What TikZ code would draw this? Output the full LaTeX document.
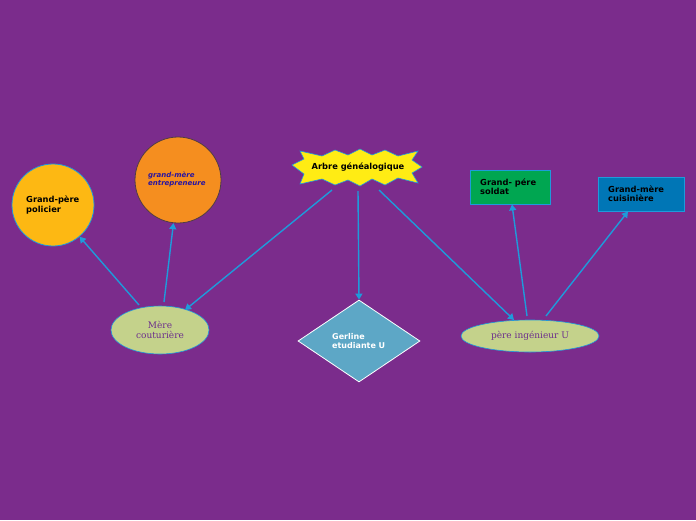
\documentclass[tikz,border=0pt]{standalone}
\usepackage{fontspec}
\setmainfont{DejaVu Sans}
\newfontfamily\serifx{DejaVu Serif}
\usetikzlibrary{shapes.geometric,arrows.meta}
\definecolor{bg}{HTML}{7B2C8C}
\definecolor{ln}{HTML}{1E9BDB}
\definecolor{lightgreen}{HTML}{C4D28B}
\definecolor{purp}{HTML}{6B2D8B}
\definecolor{cgp}{HTML}{FDB813}
\definecolor{cgm}{HTML}{F58E1F}
\definecolor{cgmb}{HTML}{503C46}
\definecolor{cgmt}{HTML}{2814A0}
\definecolor{cyel}{HTML}{FFEC14}
\definecolor{cgps}{HTML}{00A651}
\definecolor{cgmc}{HTML}{0076B6}
\definecolor{cger}{HTML}{5DA7C6}
\begin{document}
\begin{tikzpicture}[x=1pt,y=-1pt,
  lbl/.style={font=\bfseries\fontsize{8.3}{9.3}\selectfont,align=left,text=black,inner sep=0pt},
  conn/.style={draw=ln,line width=1.4pt,-{Triangle[length=6pt,width=7pt]}},
  ell/.style={ellipse,fill=lightgreen,draw=ln,line width=0.6pt,text=purp,font=\serifx\fontsize{9}{10}\selectfont,align=center}]
\fill[bg] (0,0) rectangle (696,520);
\useasboundingbox (0,0) rectangle (696,520);
% nodes
\node[circle,minimum size=82pt,fill=cgp,draw=ln,line width=0.8pt] (gp) at (53,205) {};
\node[lbl,anchor=west] at (26,205) {Grand-père\\policier};
\node[circle,minimum size=86pt,fill=cgm,draw=cgmb,line width=0.8pt] (gm) at (178,180) {};
\node[anchor=west,inner sep=0pt,font=\bfseries\itshape\fontsize{7}{8}\selectfont,text=cgmt,align=left] at (148,179) {grand-mère\\entrepreneure};
\fill[cyel,draw=ln,line width=0.6pt]
 (292,165) -- (304,159) -- (300,151) -- (322,156) -- (335,150) -- (348,155) -- (360,149) -- (372,155) -- (385,150) -- (398,156) -- (418,151) -- (412,160) -- (422,167)
 -- (412,173) -- (418,183) -- (398,178) -- (385,185) -- (372,179) -- (360,186) -- (348,180) -- (335,185) -- (322,179) -- (300,184) -- (304,174) -- cycle;
\node[lbl] (arbre) at (358,167) {Arbre généalogique};
\node[rectangle,fill=cgps,draw=ln,line width=0.8pt,minimum width=80pt,minimum height=34pt] (gps) at (510,187) {};
\node[lbl,anchor=west] at (480,187) {Grand- pére\\soldat};
\node[rectangle,fill=cgmc,draw=ln,line width=0.8pt,minimum width=86pt,minimum height=34pt] (gmc) at (641,194) {};
\node[lbl,anchor=west] at (608,194) {Grand-mère\\cuisinière};
\node[ell,minimum width=98pt,minimum height=48pt,inner sep=0pt] (mere) at (160,330) {Mère\\couturière};
\node[diamond,fill=cger,draw=white,line width=0.8pt,minimum width=122pt,minimum height=82pt,inner sep=0pt,aspect=1.5] (ger) at (359,341) {};
\node[anchor=west,inner sep=0pt,font=\bfseries\fontsize{8}{9}\selectfont,text=white,align=left] at (332,341) {Gerline\\etudiante U};
\node[ell,minimum width=138pt,minimum height=32pt,inner sep=0pt] (pere) at (530,336) {père ingénieur U};
% connectors (yshift positive = up)
\draw[conn] ([xshift=-26pt,yshift=-23pt]arbre.center) -- ([xshift=25pt,yshift=20pt]mere.center);
\draw[conn] ([yshift=-24pt]arbre.center) -- (ger.north);
\draw[conn] ([xshift=21pt,yshift=-23pt]arbre.center) -- ([xshift=-16pt,yshift=16pt]pere.center);
\draw[conn] ([xshift=-21pt,yshift=25pt]mere.center) -- (gp.-50);
\draw[conn] ([xshift=4pt,yshift=28pt]mere.center) -- (gm.-96);
\draw[conn] ([xshift=-3pt,yshift=20pt]pere.center) -- ([xshift=2pt]gps.south);
\draw[conn] ([xshift=16pt,yshift=20pt]pere.center) -- ([xshift=-13pt]gmc.south);
\end{tikzpicture}
\end{document}
